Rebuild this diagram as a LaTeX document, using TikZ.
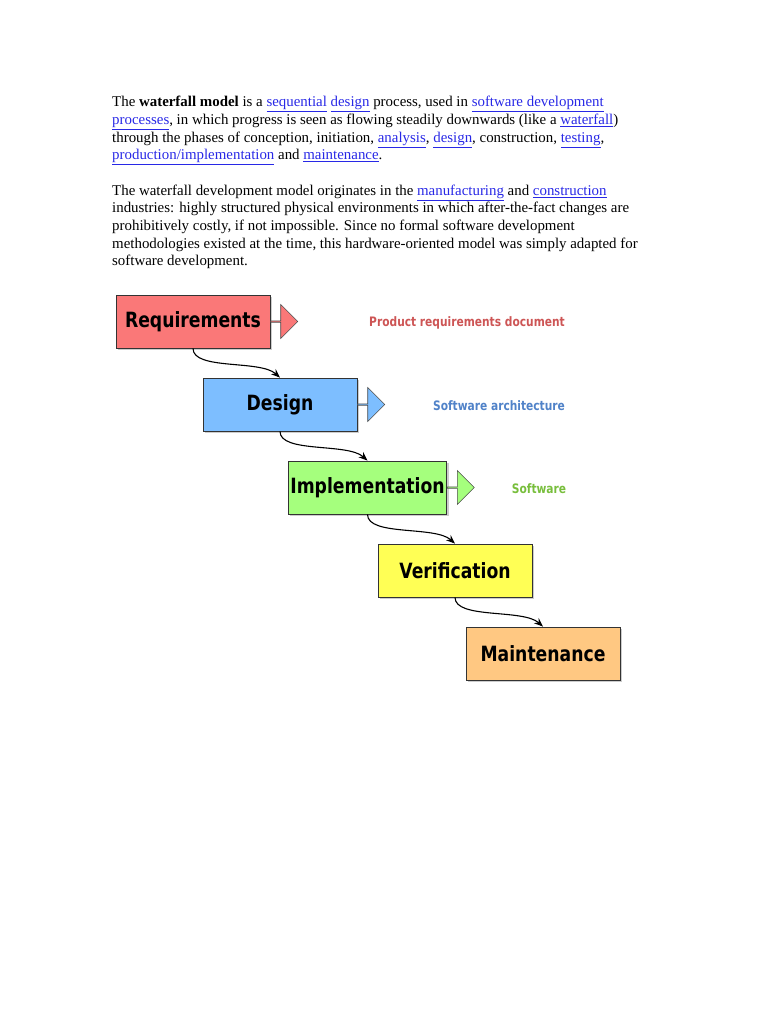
\documentclass[tikz,border=0pt]{standalone}
\usepackage{fontspec}
\setmainfont{Liberation Serif}
\newfontfamily\boxfont{DejaVu Sans}[FakeStretch=0.82]
\usetikzlibrary{shadows,shapes.arrows,arrows.meta}
\definecolor{lnk}{RGB}{40,40,230}
\newcommand{\lk}[1]{\textcolor{lnk}{\underline{#1}}}
\tikzset{
 phase/.style={draw=black!80, line width=0.8pt, minimum width=154pt, minimum height=53pt, inner xsep=2pt, font=\boxfont\bfseries\fontsize{21}{24}\selectfont, drop shadow={shadow xshift=2pt,shadow yshift=-2pt,opacity=0.4}},
 outarrow/.style={single arrow, draw=black!70, line width=0.6pt, minimum height=27pt, minimum width=34pt, single arrow head extend=7pt, inner sep=0pt, anchor=west},
 outlabel/.style={font=\boxfont\bfseries\fontsize{13}{15}\selectfont},
 flow/.style={-{Stealth[length=9pt,width=7pt]}, line width=1.1pt}
}
\begin{document}
\begin{tikzpicture}[x=1pt,y=-1pt]
\useasboundingbox (0,0) rectangle (768,1024);
\node[anchor=north west, inner sep=0pt, align=left, font=\fontsize{14.9}{17.7}\selectfont] (txt) at (112,96) {The \textbf{waterfall model} is a \lk{sequential} \lk{design} process, used in \lk{software development}\\
\lk{processes}, in which progress is seen as flowing steadily downwards (like a \lk{waterfall})\\
through the phases of conception, initiation, \lk{analysis}, \lk{design}, construction, \lk{testing},\\
\lk{production/implementation} and \lk{maintenance}.\\[17.7pt]
The waterfall development model originates in the \lk{manufacturing} and \lk{construction}\\
industries: highly structured physical environments in which after-the-fact changes are\\
prohibitively costly, if not impossible. Since no formal software development\\
methodologies existed at the time, this hardware-oriented model was simply adapted for\\
software development.};
\node[phase, fill={rgb,255:red,250;green,120;blue,120}] (req) at (193,321.5) {Requirements};
\node[phase, fill={rgb,255:red,125;green,190;blue,255}] (des) at (280,404.5) {Design};
\node[phase, fill={rgb,255:red,165;green,255;blue,125}] (imp) at (367.5,487.5) {Implementation};
\node[phase, fill={rgb,255:red,255;green,255;blue,85}] (ver) at (455,570.5) {Verification};
\node[phase, fill={rgb,255:red,255;green,200;blue,130}] (mai) at (543,653.5) {Maintenance};
\node[outarrow, fill={rgb,255:red,250;green,120;blue,120}] (a1) at (req.east) {};
\node[outarrow, fill={rgb,255:red,125;green,190;blue,255}] (a2) at (des.east) {};
\node[outarrow, fill={rgb,255:red,165;green,255;blue,125}] (a3) at (imp.east) {};
\node[outlabel, text={rgb,255:red,205;green,85;blue,85}] (l1) at (467,323) {Product requirements document};
\node[outlabel, text={rgb,255:red,80;green,130;blue,200}] (l2) at (499,406) {Software architecture};
\node[outlabel, text={rgb,255:red,120;green,190;blue,60}] (l3) at (539,489) {Software};
\draw[flow] (req.south) .. controls +(0,22) and +(-20,-18) .. (des.north);
\draw[flow] (des.south) .. controls +(0,22) and +(-20,-18) .. (imp.north);
\draw[flow] (imp.south) .. controls +(0,22) and +(-20,-18) .. (ver.north);
\draw[flow] (ver.south) .. controls +(0,22) and +(-20,-18) .. (mai.north);
\end{tikzpicture}
\end{document}
